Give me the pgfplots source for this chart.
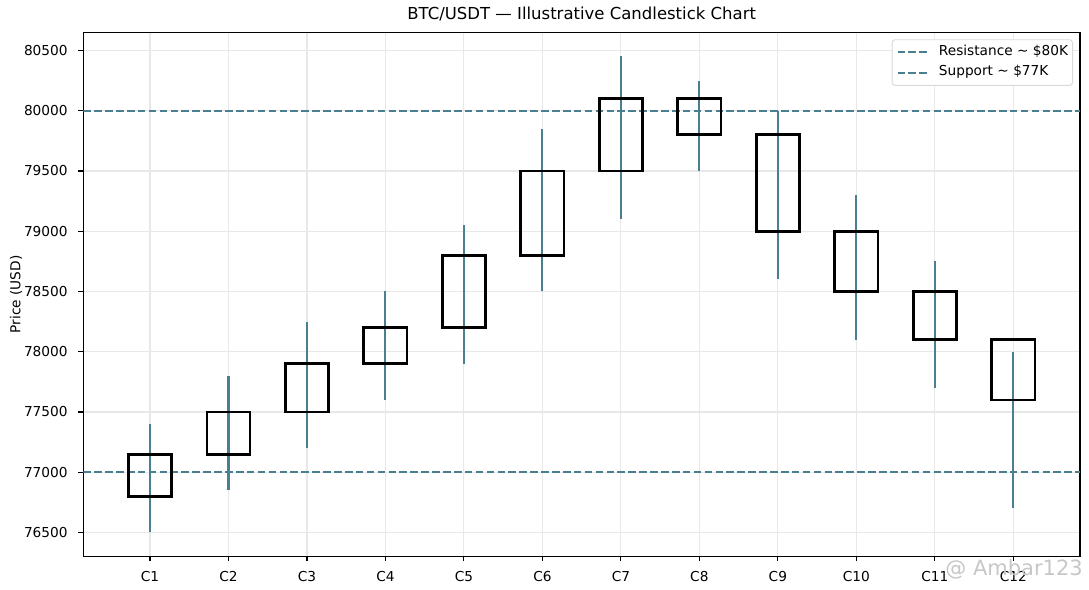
\documentclass[border=0pt]{standalone}
\usepackage{fontspec}
\setmainfont{DejaVu Sans}
\usepackage{pgfplots}
\pgfplotsset{compat=1.18}
\definecolor{wick}{HTML}{4A7F91}
\definecolor{gridc}{RGB}{232,232,232}
\definecolor{legedge}{RGB}{218,218,218}
\begin{document}
\fontsize{13.7bp}{16bp}\selectfont
\begin{tikzpicture}
\useasboundingbox (0,0) rectangle (1089bp,590bp);
\begin{axis}[
  at={(83.3bp,33.7bp)}, anchor=south west,
  scale only axis, width=996.7bp, height=523.6bp,
  xmin=-0.85, xmax=11.85, ymin=76302.5, ymax=80647.5,
  unbounded coords=jump,
  xtick={0,1,2,3,4,5,6,7,8,9,10,11},
  xticklabels={C1,C2,C3,C4,C5,C6,C7,C8,C9,C10,C11,C12},
  ytick={76500,77000,77500,78000,78500,79000,79500,80000,80500},
  scaled y ticks=false,
  /pgf/number format/assume math mode=true,
  /pgf/number format/1000 sep={},
  /pgf/number format/fixed,
  tick align=outside, tick pos=left,
  major tick length=4.9bp,
  every tick/.style={black, line width=1.1bp},
  axis line style={line width=1.1bp},
  grid=major,
  major grid style={gridc, line width=1.1bp},
  xticklabel style={anchor=base, inner sep=0pt, yshift=-20.4bp},
  yticklabel style={anchor=east, inner sep=0pt, xshift=-10.6bp},
  every axis y label/.style={at={([xshift=-67.3bp]axis description cs:0,0.5)}, anchor=center, rotate=90},
  ylabel={Price (USD)},
  title={BTC/USDT — Illustrative Candlestick Chart},
  title style={at={(axis description cs:0.5,1)}, anchor=base, yshift=7.7bp, font=\fontsize{16.5bp}{19bp}\selectfont},
  legend cell align=left,
  legend image code/.code={\draw[#1] (0bp,0bp) -- (29.7bp,0bp); \path (40.3bp,0bp);},
  legend style={at={(axis description cs:1,1)}, anchor=north east, xshift=-7bp, yshift=-6.6bp,
    draw=legedge, line width=0.9bp, rounded corners=3bp, fill=white,
    inner xsep=4.5bp, inner ysep=5.5bp, row sep=6.7bp, column sep=0bp,
    nodes={inner sep=0bp, text height=10bp, text depth=4bp},
    font=\fontsize{13.7bp}{16bp}\selectfont},
]
% Resistance / support lines
\addplot[wick, line width=2.06bp, dash pattern=on 7.6bp off 3.3bp] coordinates {(-0.85,80000) (11.85,80000)};
\addlegendentry{Resistance \char"007E{} \$80K}
\addplot[wick, line width=2.06bp, dash pattern=on 7.6bp off 3.3bp] coordinates {(-0.85,77000) (11.85,77000)};
\addlegendentry{Support \char"007E{} \$77K}
% Wicks (low to high)
\addplot[wick, line width=2.06bp, forget plot] coordinates {
(0,76500) (0,77400) (0,nan)
(1,76850) (1,77800) (1,nan)
(2,77200) (2,78250) (2,nan)
(3,77600) (3,78500) (3,nan)
(4,77900) (4,79050) (4,nan)
(5,78500) (5,79850) (5,nan)
(6,79100) (6,80450) (6,nan)
(7,79500) (7,80250) (7,nan)
(8,78600) (8,80000) (8,nan)
(9,78100) (9,79300) (9,nan)
(10,77700) (10,78750) (10,nan)
(11,76700) (11,78000)
};
% Bodies (open/close), width 0.55
\addplot[black, line width=2.75bp, line join=miter, forget plot] coordinates {
(-0.275,77150) (0.275,77150) (0.275,76800) (-0.275,76800) (-0.275,77150) (0.275,77150) (0,nan)
(0.725,77500) (1.275,77500) (1.275,77150) (0.725,77150) (0.725,77500) (1.275,77500) (1,nan)
(1.725,77900) (2.275,77900) (2.275,77500) (1.725,77500) (1.725,77900) (2.275,77900) (2,nan)
(2.725,78200) (3.275,78200) (3.275,77900) (2.725,77900) (2.725,78200) (3.275,78200) (3,nan)
(3.725,78800) (4.275,78800) (4.275,78200) (3.725,78200) (3.725,78800) (4.275,78800) (4,nan)
(4.725,79500) (5.275,79500) (5.275,78800) (4.725,78800) (4.725,79500) (5.275,79500) (5,nan)
(5.725,80100) (6.275,80100) (6.275,79500) (5.725,79500) (5.725,80100) (6.275,80100) (6,nan)
(6.725,80100) (7.275,80100) (7.275,79800) (6.725,79800) (6.725,80100) (7.275,80100) (7,nan)
(7.725,79800) (8.275,79800) (8.275,79000) (7.725,79000) (7.725,79800) (8.275,79800) (8,nan)
(8.725,79000) (9.275,79000) (9.275,78500) (8.725,78500) (8.725,79000) (9.275,79000) (9,nan)
(9.725,78500) (10.275,78500) (10.275,78100) (9.725,78100) (9.725,78500) (10.275,78500) (10,nan)
(10.725,78100) (11.275,78100) (11.275,77600) (10.725,77600) (10.725,78100) (11.275,78100)
};
\end{axis}
\node[anchor=base east, text=black!22, font=\fontsize{21bp}{24bp}\selectfont, inner sep=0pt] at (1083bp,15bp) {@ Ambar123};
\end{tikzpicture}
\end{document}
